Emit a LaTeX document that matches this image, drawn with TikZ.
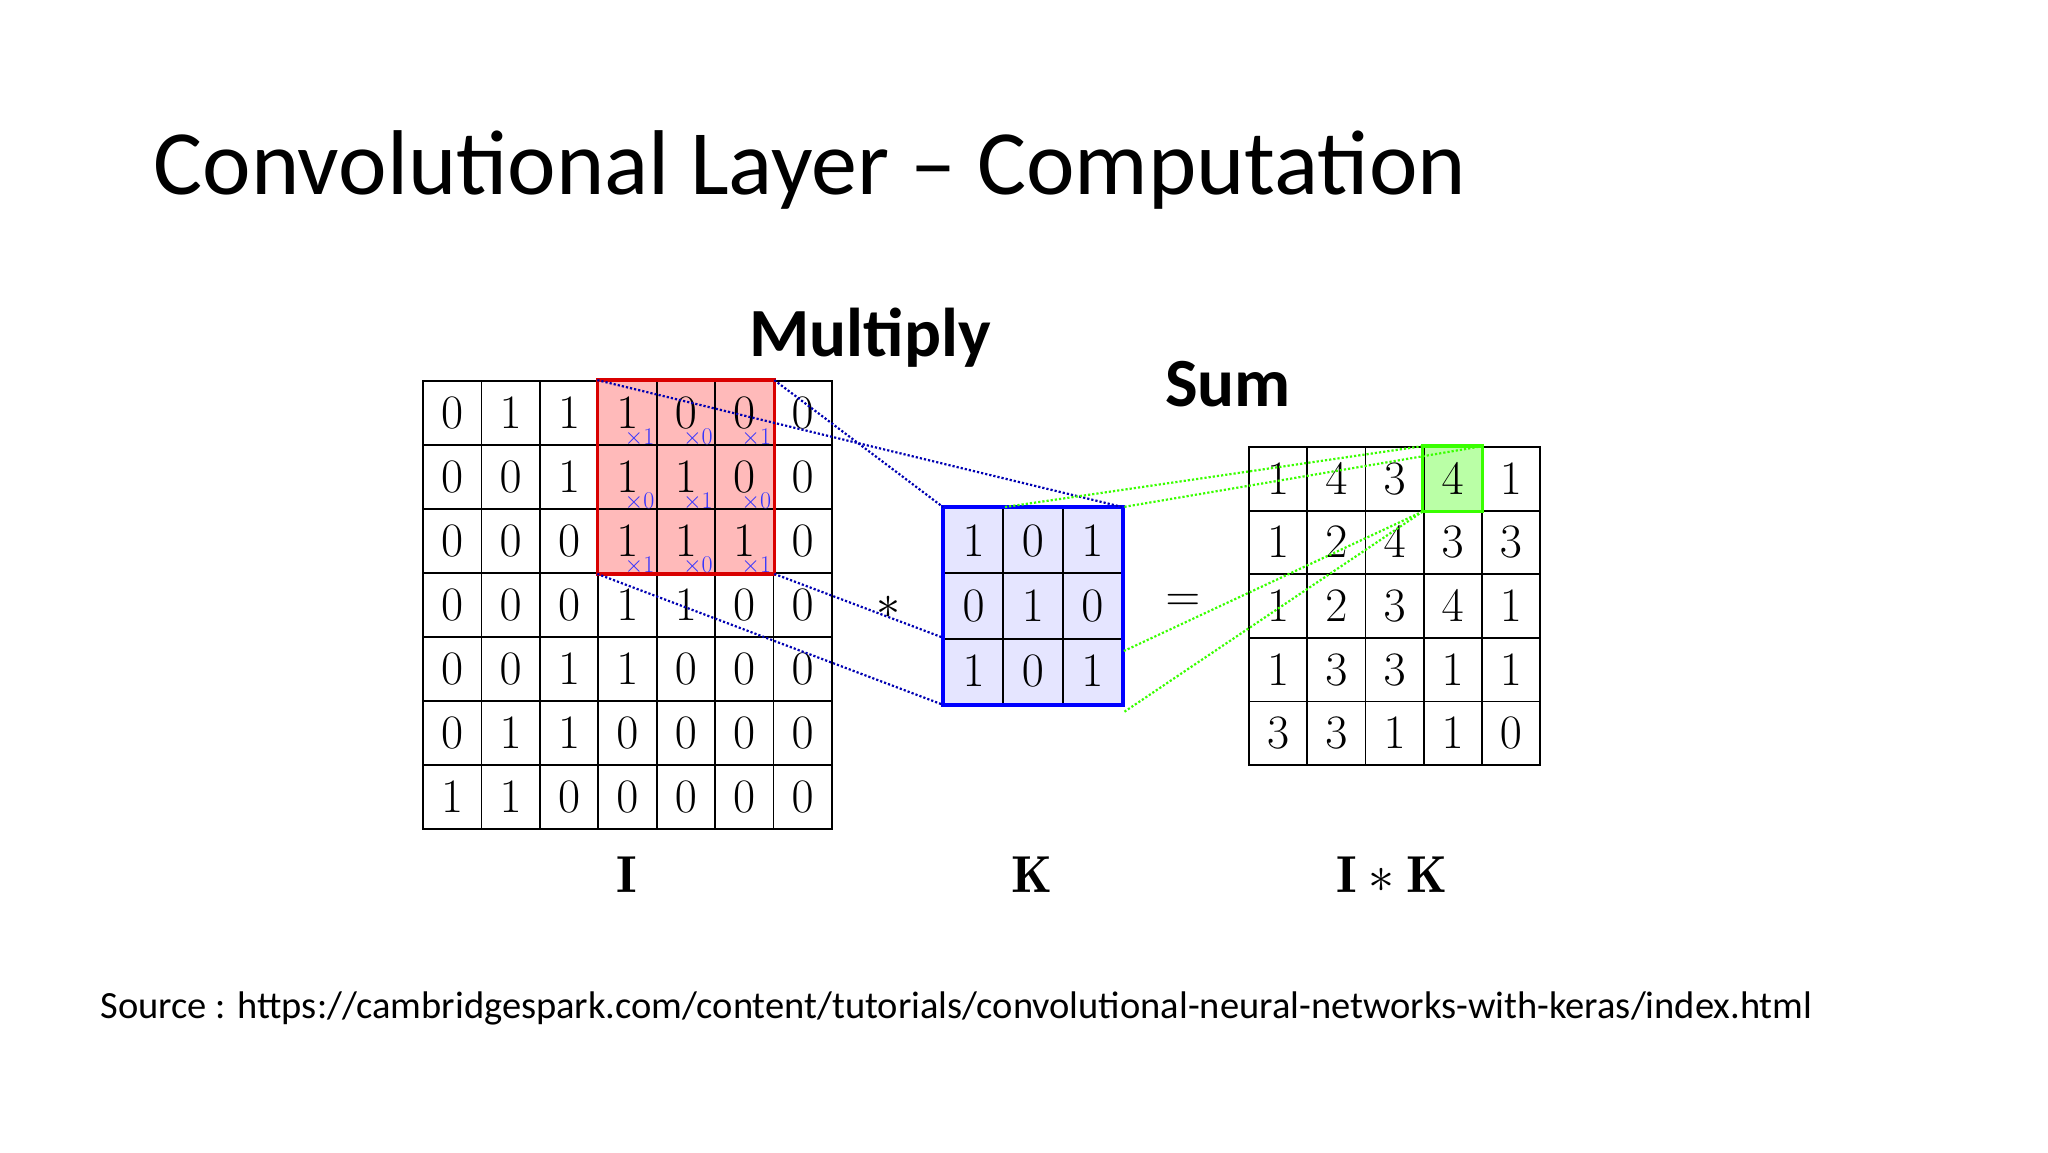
\RequirePackage{fix-cm}
\documentclass[tikz,border=0pt]{standalone}
\usepackage{fontspec}
\newfontfamily\carl{Carlito}
\begin{document}
\begin{tikzpicture}[x=1pt,y=-1pt,
  dig/.style={font=\fontsize{48}{48}\selectfont},
  cellI/.style={draw,line width=1.8pt,minimum width=58.4pt,minimum height=64pt,inner sep=0pt,dig},
  cellO/.style={draw,line width=1.8pt,minimum width=58.2pt,minimum height=63.6pt,inner sep=0pt,dig},
  cellK/.style={draw,line width=1.8pt,minimum width=59.3pt,minimum height=65.3pt,inner sep=0pt,fill=blue!10,dig},
  wt/.style={text=blue!80!white,font=\fontsize{24}{24}\selectfont,inner sep=0pt},
  bdot/.style={blue!70!black,line width=2.2pt,dotted},
  gdot/.style={green!70!lime,line width=2.2pt,dotted}]
\useasboundingbox (0,0) rectangle (2048,1152);
\node[font=\carl\fontsize{92}{92}\selectfont,anchor=west] (title) at (150,170) {Convolutional Layer – Computation};
\fill[red!60!white,opacity=0.45] (598,381) rectangle (773.2,573);
\foreach \r/\row in {0/{0,1,1,1,0,0,0},1/{0,0,1,1,1,0,0},2/{0,0,0,1,1,1,0},3/{0,0,0,1,1,0,0},4/{0,0,1,1,0,0,0},5/{0,1,1,0,0,0,0},6/{1,1,0,0,0,0,0}}{
  \foreach \v [count=\c from 0] in \row {
    \pgfmathsetmacro\xx{423+29.2+58.4*\c}
    \pgfmathsetmacro\yy{381+32+64*\r}
    \node[cellI] (i\r\c) at (\xx,\yy) {$\v$};
  }}
\draw[red!85!black,line width=3.5pt] (i03.north west) rectangle (i25.south east);
\coordinate (rtl) at (i03.north west);
\coordinate (rtr) at (i05.north east);
\coordinate (rbl) at (i23.south west);
\coordinate (rbr) at (i25.south east);
\foreach \r/\row in {0/{1,0,1},1/{0,1,0},2/{1,0,1}}{
  \foreach \v [count=\c from 3] in \row {
    \node[wt,anchor=south east] at ([xshift=-3pt,yshift=-1pt]i\r\c.south east) {$\times\v$};
  }}
\foreach \r/\row in {0/{1,0,1},1/{0,1,0},2/{1,0,1}}{
  \foreach \v [count=\c from 0] in \row {
    \pgfmathsetmacro\xx{944+29.65+59.3*\c}
    \pgfmathsetmacro\yy{508+32.65+65.3*\r}
    \node[cellK] (k\r\c) at (\xx,\yy) {$\v$};
  }}
\draw[blue,line width=3.5pt] (k00.north west) rectangle (k22.south east);
\fill[green!70!lime,opacity=0.35] (1423.6,447) rectangle (1481.8,510.6);
\foreach \r/\row in {0/{1,4,3,4,1},1/{1,2,4,3,3},2/{1,2,3,4,1},3/{1,3,3,1,1},4/{3,3,1,1,0}}{
  \foreach \v [count=\c from 0] in \row {
    \pgfmathsetmacro\xx{1249+29.1+58.2*\c}
    \pgfmathsetmacro\yy{447+31.8+63.6*\r}
    \node[cellO] (o\r\c) at (\xx,\yy) {$\v$};
  }}
\draw[green!70!lime,line width=3.5pt] (o03.north west) rectangle (o03.south east);
\coordinate (kml) at (k20.north west);
\draw[bdot] (rtl) -- (k02.north east);
\draw[bdot] (rtr) -- (k00.north west);
\draw[bdot] (rbl) -- (k20.south west);
\draw[bdot] (rbr) -- (kml);
\coordinate (kr1) at ([yshift=-12pt]k12.south east);
\coordinate (kr2) at ([yshift=-8pt]k22.south east);
\draw[gdot] (o03.north west) -- (k00.north east);
\draw[gdot] (o03.north east) -- (k02.north east);
\draw[gdot] (o03.south west) -- (kr1);
\draw[gdot] (o03.south west) -- (kr2);
\node[dig] (ast) at (888,607) {$*$};
\node[dig] (eq) at (1183,603) {$=$};
\node[font=\fontsize{52}{52}\selectfont] (li) at (627,875) {$\mathbf{I}$};
\node[font=\fontsize{52}{52}\selectfont] (lk) at (1032,875) {$\mathbf{K}$};
\node[font=\fontsize{52}{52}\selectfont] (lik) at (1392,875) {$\mathbf{I}*\mathbf{K}$};
\node[font=\carl\bfseries\fontsize{69}{69}\selectfont] (mul) at (870,338) {Multiply};
\node[font=\carl\bfseries\fontsize{69}{69}\selectfont] (sum) at (1228,384) {Sum};
\node[font=\carl\fontsize{38.5}{38.5}\selectfont,anchor=west] (src) at (97,1008) {Source : https://cambridgespark.com/content/tutorials/convolutional-neural-networks-with-keras/index.html};
\end{tikzpicture}
\end{document}
